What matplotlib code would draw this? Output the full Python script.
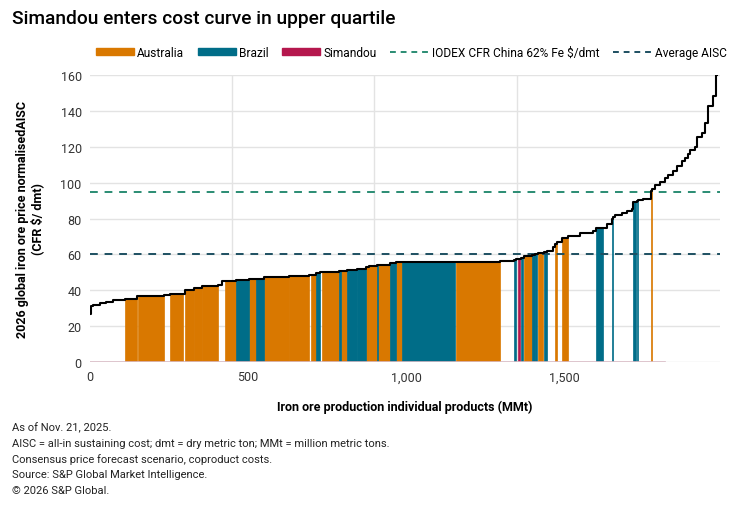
import matplotlib
matplotlib.use('Agg')
import matplotlib.pyplot as plt
import numpy as np
from matplotlib.patches import Patch
from matplotlib.lines import Line2D

# Dati: larghezza prodotto (MMt), costo AISC (CFR $/dmt), paese
widths = [3, 6, 22, 19, 22, 38, 38, 3, 82, 19, 41, 9, 28, 25, 51, 13, 9,
          35, 41, 22, 25, 79, 63, 6, 16, 13, 6, 54, 6, 19, 32, 28, 9, 25,
          3, 41, 16, 22, 165, 6, 139, 44, 6, 6, 6, 3, 6, 3, 25, 9, 3, 6,
          3, 16, 3, 9, 19, 6, 6, 16, 19, 38, 41, 9, 22, 13, 16, 3, 6, 22,
          16, 16, 3, 9, 3, 3, 16, 28, 3, 9, 16, 16, 9, 16, 13, 16, 9, 9,
          6, 16, 6, 16, 9, 9, 16, 9, 3]
costs = [27, 31, 32, 33, 33.5, 34.3, 35, 37, 37, 37.3, 37.8, 38, 40, 41.5,
         42.3, 43, 45, 45.3, 46, 46.3, 46.5, 47.2, 48.2, 48.5, 48.6, 49.6,
         50, 50.3, 50.8, 51, 51.5, 51.8, 53.1, 53.7, 54, 54.3, 55.2, 55.6,
         55.7, 55.8, 55.9, 56.5, 57, 57.2, 57.5, 57.6, 57.8, 58, 58.9, 59.5,
         59.8, 60, 60.2, 60.6, 60.8, 61.1, 62, 64, 66, 67, 69.2, 70.5, 72,
         73, 74.5, 75, 77, 80, 81, 82, 83, 84.3, 85.3, 89, 89.5, 90, 90.3,
         91, 95.5, 96.5, 98.5, 100.5, 102.5, 104.5, 106.5, 109.5, 112, 114,
         116, 118.5, 120, 125.5, 127.5, 133.5, 143, 148.5, 160]
country = ['', '', '', '', '', '', 'AU', '', 'AU', '', 'AU', '', 'AU', 'AU',
           'AU', '', '', 'AU', 'BR', 'AU', 'BR', 'AU', 'AU', '', 'AU', 'BR',
           '', 'AU', 'BR', 'AU', 'BR', 'BR', 'AU', 'AU', 'BR', 'AU', 'BR',
           'AU', 'BR', '', 'AU', '', 'BR', '', 'SM', '', 'BR', '', 'AU', 'BR',
           '', 'BR', '', 'AU', '', 'BR', '', '', 'AU', '', 'AU', '', '', '',
           'BR', '', '', 'BR', '', '', '', '', '', 'BR', '', 'BR', '', '',
           'AU', '', '', '', '', '', '', '', '', '', '', '', '', '', '', '',
           '', '', '']

iodex = 95
avg_aisc = 60.5

colori = {'AU': '#D97800', 'BR': '#006D88', 'SM': '#B5174D'}
etichette = {'AU': 'Australia', 'BR': 'Brazil', 'SM': 'Simandou'}

widths = np.array(widths, dtype=float)
costs = np.array(costs, dtype=float)
left = np.concatenate([[0], np.cumsum(widths)[:-1]])

plt.rcParams['font.family'] = ['Roboto', 'DejaVu Sans']

fig = plt.figure(figsize=(7.5, 5.06), dpi=100)
ax = fig.add_axes([0.12, 0.2826, 0.84, 0.567])

# Barre per paese (bordo dello stesso colore per rendere visibili le barre sottili)
for c in ['AU', 'BR', 'SM']:
    m = np.array([k == c for k in country])
    ax.bar(left[m], costs[m], width=widths[m], align='edge',
           color=colori[c], edgecolor=colori[c], linewidth=0.5, zorder=2)

# Curva dei costi
xs = np.concatenate([left, [left[-1] + widths[-1]]])
ys = np.concatenate([costs, [costs[-1]]])
ax.step(xs, ys, where='post', color='black', linewidth=1.5, zorder=4)

ax.axhline(iodex, color='#2A8C73', linestyle=(0, (4, 3.5)), linewidth=1.4, zorder=3)
ax.axhline(avg_aisc, color='#1D4F61', linestyle=(0, (4, 3.5)), linewidth=1.4, zorder=3)
ax.plot([0, 1820], [0, 0], color='#D9BCC6', linewidth=1.2, zorder=3)

ax.set_xlim(0, 1994)
ax.set_ylim(0, 160)
ax.set_yticks(np.arange(0, 161, 20))
ax.set_xticks([0, 500, 1000, 1500])
ax.set_xticklabels(['0', '500', '1,000', '1,500'])
ax.set_xticks([450, 900, 1350], minor=True)
ax.grid(axis='y', color='#E3E3E3', linewidth=1, zorder=0)
ax.grid(axis='x', which='minor', color='#E3E3E3', linewidth=1, zorder=0)
ax.tick_params(axis='both', length=0, labelsize=9, colors='#333333', pad=6)
ax.tick_params(axis='x', which='minor', length=0)
for s in ax.spines.values():
    s.set_visible(False)

ax.set_xlabel('Iron ore production individual products (MMt)', fontsize=9,
              fontweight='bold', labelpad=12)
ax.set_ylabel('2026 global iron ore price normalisedAISC\n(CFR $/ dmt)', fontsize=9,
              fontweight='bold', labelpad=12, linespacing=1.1)

fig.text(0.016, 0.962, 'Simandou enters cost curve in upper quartile', fontsize=13.8,
         fontweight='medium', va='center', ha='left')

handles = [Patch(color=colori[c], label=etichette[c]) for c in ['AU', 'BR', 'SM']]
handles += [Line2D([0], [0], color='#2A8C73', linestyle=(0, (3, 2.5)), linewidth=1.4,
                   label='IODEX CFR China 62% Fe $/dmt'),
            Line2D([0], [0], color='#1D4F61', linestyle=(0, (3, 2.5)), linewidth=1.4,
                   label='Average AISC')]
fig.legend(handles=handles, loc='center right', bbox_to_anchor=(0.983, 0.895), ncol=5,
           frameon=False, fontsize=8.6, handlelength=3.2, handleheight=0.6,
           handletextpad=0.3, columnspacing=1.1)

note = ['As of Nov. 21, 2025.',
        'AISC = all-in sustaining cost; dmt = dry metric ton; MMt = million metric tons.',
        'Consensus price forecast scenario, coproduct costs.',
        'Source: S&P Global Market Intelligence.',
        '\u00a9 2026 S&P Global.']
for i, t in enumerate(note):
    fig.text(0.016, 1 - (428 + i * 15.8) / 506, t, fontsize=8, va='center', ha='left',
             color='#222222')

fig.savefig('out.png', dpi=100)
